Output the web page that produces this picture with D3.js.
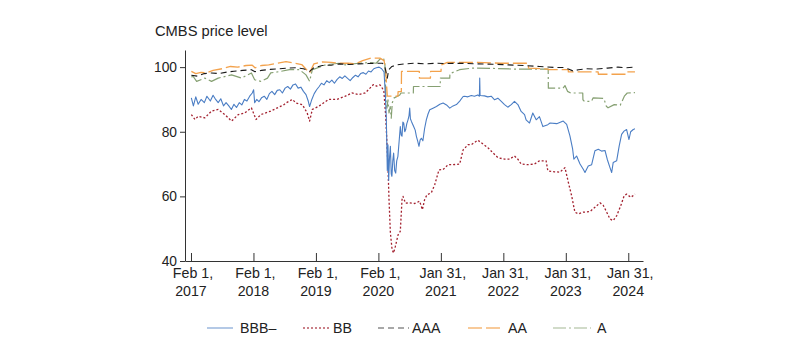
<!DOCTYPE html>
<html>
<head>
<meta charset="utf-8">
<script src="https://cdn.jsdelivr.net/npm/d3@7"></script>
<style>
  html, body { margin: 0; padding: 0; background: #fff; }
  svg { display: block; font-family: "Liberation Sans", Arial, sans-serif; }
</style>
</head>
<body>
<svg id="chart" width="800" height="358"></svg>
<script>
// ---------------- DATA ----------------
const title = "CMBS price level";
const yTicks = [40, 60, 80, 100];
const xTickDates = ["2017-02-01","2018-02-01","2019-02-01","2020-02-01","2021-01-31","2022-01-31","2023-01-31","2024-01-31"];
const xTickLine1 = ["Feb 1,","Feb 1,","Feb 1,","Feb 1,","Jan 31,","Jan 31,","Jan 31,","Jan 31,"];
const xTickLine2 = ["2017","2018","2019","2020","2021","2022","2023","2024"];
const seriesNames = ["BBB\u2013", "BB", "AAA", "AA", "A"];

const bbb = [
["2017-02-03",90.5],["2017-02-15",88.0],["2017-03-01",90.8],["2017-03-15",88.5],["2017-04-01",90.0],["2017-04-20",89.0],
["2017-05-05",91.0],["2017-05-25",89.5],["2017-06-10",91.3],["2017-06-25",90.0],["2017-07-10",89.0],["2017-07-25",90.2],
["2017-08-10",88.0],["2017-08-25",89.0],["2017-09-10",88.0],["2017-09-25",86.9],["2017-10-10",88.5],["2017-10-25",87.5],
["2017-11-10",89.0],["2017-11-25",88.3],["2017-12-10",90.0],["2017-12-25",89.5],["2018-01-10",91.0],["2018-01-25",92.0],
["2018-02-02",93.0],["2018-02-08",89.0],["2018-02-20",90.0],["2018-03-05",89.3],["2018-03-20",90.5],["2018-04-05",91.0],
["2018-04-20",90.0],["2018-05-05",91.8],["2018-05-20",92.5],["2018-06-05",91.5],["2018-06-20",92.8],["2018-07-05",93.0],
["2018-07-20",92.0],["2018-08-05",93.5],["2018-08-20",94.0],["2018-09-05",93.2],["2018-09-20",94.5],["2018-10-05",94.8],
["2018-10-20",93.5],["2018-11-05",93.8],["2018-11-20",92.5],["2018-12-05",91.5],["2018-12-18",89.5],["2018-12-26",87.8],
["2019-01-08",90.0],["2019-01-22",91.8],["2019-02-05",93.0],["2019-02-20",94.0],["2019-03-05",95.0],["2019-03-20",94.5],
["2019-04-05",95.8],["2019-04-20",95.2],["2019-05-05",96.0],["2019-05-20",95.0],["2019-06-05",96.2],["2019-06-20",97.0],
["2019-07-05",96.5],["2019-07-20",97.3],["2019-08-05",96.5],["2019-08-20",95.8],["2019-09-05",96.8],["2019-09-20",97.5],
["2019-10-05",97.0],["2019-10-20",98.0],["2019-11-05",98.3],["2019-11-20",97.8],["2019-12-05",98.8],["2019-12-20",98.5],
["2020-01-05",99.5],["2020-01-20",99.8],["2020-02-05",100.0],["2020-02-20",99.5],["2020-03-05",98.5],["2020-03-12",92.0],
["2020-03-18",84.7],["2020-03-24",68.0],["2020-03-28",76.0],["2020-04-01",65.0],["2020-04-06",72.0],["2020-04-11",75.5],
["2020-04-16",67.0],["2020-04-20",66.2],["2020-04-25",71.0],["2020-04-30",73.4],["2020-05-06",68.0],["2020-05-12",67.2],
["2020-05-18",71.0],["2020-05-25",72.4],["2020-06-01",77.0],["2020-06-08",81.6],["2020-06-13",79.0],["2020-06-18",78.6],
["2020-06-23",83.0],["2020-06-28",82.7],["2020-07-04",80.0],["2020-07-09",80.6],["2020-07-16",82.5],["2020-07-23",83.7],
["2020-07-29",85.0],["2020-08-02",87.3],["2020-08-06",84.0],["2020-08-12",83.2],["2020-08-25",81.6],["2020-09-03",80.5],
["2020-09-10",78.6],["2020-09-18",77.0],["2020-09-25",75.5],["2020-10-02",77.5],["2020-10-09",78.0],["2020-10-18",77.2],
["2020-10-28",81.0],["2020-11-07",83.7],["2020-11-17",85.5],["2020-11-27",86.8],["2020-12-16",87.3],["2021-01-05",87.8],
["2021-01-25",88.5],["2021-02-13",88.9],["2021-03-05",88.3],["2021-03-24",87.3],["2021-04-12",88.0],["2021-05-02",88.4],
["2021-05-21",89.5],["2021-06-10",90.9],["2021-06-18",91.0],["2021-07-08",90.8],["2021-07-28",91.2],["2021-08-15",91.0],
["2021-09-04",91.4],["2021-09-13",91.0],["2021-09-15",96.6],["2021-09-17",91.2],["2021-10-13",91.1],["2021-11-01",90.8],
["2021-11-21",91.0],["2021-12-11",89.9],["2021-12-30",90.4],["2022-01-19",89.4],["2022-02-07",88.4],["2022-02-26",87.6],
["2022-03-18",88.4],["2022-04-06",89.4],["2022-04-26",88.4],["2022-05-15",86.3],["2022-06-04",85.3],["2022-06-13",83.7],
["2022-07-03",82.7],["2022-07-22",85.8],["2022-08-11",83.7],["2022-08-30",84.7],["2022-09-19",81.6],["2022-10-18",82.2],
["2022-10-31",82.7],["2022-12-09",82.5],["2023-01-16",83.3],["2023-02-05",82.3],["2023-02-24",78.7],["2023-03-12",74.6],
["2023-03-19",71.5],["2023-04-04",72.5],["2023-04-24",70.0],["2023-05-13",68.4],["2023-05-23",67.4],["2023-06-11",69.4],
["2023-07-01",69.8],["2023-07-20",74.1],["2023-08-09",74.6],["2023-08-28",74.0],["2023-09-17",74.2],["2023-09-30",71.5],
["2023-10-16",68.9],["2023-10-26",67.4],["2023-11-04",70.5],["2023-11-24",71.0],["2023-12-09",75.6],["2023-12-23",79.2],
["2024-01-06",80.2],["2024-01-21",80.7],["2024-02-04",77.6],["2024-02-14",80.0],["2024-02-29",80.7],["2024-03-10",80.9]
];

const bb = [
["2017-02-03",85.3],["2017-02-24",83.8],["2017-03-15",84.8],["2017-04-23",84.3],["2017-06-01",86.4],["2017-07-10",86.9],
["2017-08-18",85.3],["2017-09-26",83.3],["2017-11-04",85.3],["2017-12-12",85.8],["2018-01-20",87.4],["2018-02-16",83.8],
["2018-03-16",85.3],["2018-05-13",86.4],["2018-06-21",87.4],["2018-07-30",88.4],["2018-08-09",88.9],["2018-09-17",90.0],
["2018-10-07",88.9],["2018-11-14",88.4],["2018-12-12",85.8],["2018-12-26",83.3],["2019-01-11",86.9],["2019-02-18",87.9],
["2019-04-16",90.0],["2019-06-03",90.0],["2019-07-23",91.0],["2019-08-30",92.0],["2019-10-08",91.5],["2019-11-16",92.0],
["2020-01-03",94.6],["2020-01-22",94.1],["2020-02-10",94.5],["2020-02-19",94.0],["2020-03-04",92.5],["2020-03-15",84.7],
["2020-03-28",69.3],["2020-04-03",59.0],["2020-04-11",48.7],["2020-04-21",43.5],["2020-04-30",42.5],["2020-05-10",44.5],
["2020-05-26",48.1],["2020-06-08",49.2],["2020-06-18",59.0],["2020-06-24",60.0],["2020-07-08",57.9],["2020-08-02",58.0],
["2020-08-31",57.8],["2020-09-29",58.5],["2020-10-15",55.9],["2020-10-28",59.0],["2020-11-11",60.5],["2020-12-06",61.1],
["2020-12-26",63.6],["2021-01-20",68.2],["2021-02-13",68.3],["2021-03-14",69.8],["2021-04-12",69.8],["2021-05-21",70.0],
["2021-06-10",74.4],["2021-07-09",76.0],["2021-07-28",76.0],["2021-09-04",77.4],["2021-09-24",76.6],["2021-11-01",75.1],
["2021-12-01",73.5],["2021-12-30",72.0],["2022-02-07",71.5],["2022-03-08",71.5],["2022-04-06",72.5],["2022-04-26",71.5],
["2022-05-15",70.0],["2022-06-23",69.8],["2022-08-01",70.0],["2022-08-30",71.0],["2022-10-08",71.0],["2022-10-18",67.9],
["2022-11-26",67.6],["2022-12-28",67.5],["2023-01-26",68.9],["2023-02-15",64.3],["2023-03-06",60.2],["2023-03-25",55.1],
["2023-04-14",54.6],["2023-05-13",55.1],["2023-06-21",55.3],["2023-07-20",56.6],["2023-08-19",58.0],["2023-09-07",57.2],
["2023-09-27",55.1],["2023-10-16",53.0],["2023-11-04",52.5],["2023-11-24",54.0],["2023-12-18",57.1],["2024-01-07",60.2],
["2024-01-21",60.7],["2024-02-15",59.7],["2024-03-10",60.7]
];

const aaa = [
["2017-02-03",97.5],["2017-03-10",97.2],["2017-04-20",98.0],["2017-06-01",98.2],["2017-07-15",98.0],["2017-09-01",98.5],
["2017-10-10",98.7],["2017-12-01",99.0],["2018-01-20",99.2],["2018-02-10",98.6],["2018-03-20",99.0],["2018-05-10",99.3],
["2018-07-01",99.5],["2018-08-20",99.7],["2018-10-10",99.8],["2018-11-20",99.5],["2018-12-26",98.7],["2019-01-20",99.8],
["2019-03-10",100.5],["2019-05-01",100.6],["2019-06-20",101.0],["2019-08-15",100.8],["2019-10-10",101.0],["2019-12-01",101.1],
["2020-01-20",101.2],["2020-02-25",101.2],["2020-03-10",100.0],["2020-03-18",98.1],["2020-03-24",96.6],["2020-04-01",99.2],
["2020-04-20",100.2],["2020-05-20",100.7],["2020-07-01",101.0],["2020-09-01",101.2],["2020-11-01",101.0],["2021-01-01",101.2],
["2021-03-01",101.1],["2021-06-01",101.2],["2021-09-01",101.0],["2021-12-01",100.9],["2022-03-01",100.7],["2022-06-01",100.5],
["2022-09-01",100.2],["2022-12-01",99.9],["2023-01-15",99.9],["2023-02-15",99.4],["2023-03-15",98.8],["2023-04-15",99.2],
["2023-06-01",99.5],["2023-08-01",99.4],["2023-10-01",99.7],["2023-12-01",100.0],["2024-01-15",99.8],["2024-03-10",100.0]
];

const aa = [
["2017-02-03",98.7],["2017-03-01",98.0],["2017-04-01",98.4],["2017-05-01",98.2],["2017-06-10",99.0],["2017-08-01",99.5],
["2017-09-20",100.2],["2017-11-01",100.0],["2017-12-20",100.5],["2018-01-25",100.6],["2018-02-10",99.8],["2018-03-20",100.5],
["2018-05-01",100.7],["2018-06-20",101.2],["2018-08-10",101.7],["2018-09-20",101.3],["2018-11-10",100.8],["2018-12-26",98.2],
["2019-01-20",101.0],["2019-03-10",101.6],["2019-05-01",101.5],["2019-06-20",101.2],["2019-08-10",101.2],["2019-09-20",101.0],
["2019-11-01",102.0],["2019-12-20",102.8],["2020-02-10",102.8],["2020-03-05",102.0],["2020-03-15",99.0],["2020-03-20",94.2],
["2020-03-24",91.0],["2020-05-25",91.0],["2020-05-26",92.4],["2020-06-14",92.4],["2020-06-15",98.7],["2020-09-27",98.7],
["2020-09-28",96.6],["2020-12-01",96.6],["2020-12-02",98.7],["2021-02-01",98.7],["2021-02-02",100.7],["2021-03-10",101.5],
["2021-09-01",101.5],["2022-01-15",101.2],["2022-06-26",101.2],["2022-06-27",99.7],["2022-10-20",99.4],["2022-10-21",99.2],
["2023-02-14",99.2],["2023-02-15",98.5],["2023-08-08",98.5],["2023-08-09",97.8],["2024-01-20",97.8],["2024-01-21",98.5],
["2024-03-10",98.5]
];

const aSeries = [
["2017-02-03",97.0],["2017-02-14",97.1],["2017-03-06",95.6],["2017-04-23",96.6],["2017-06-01",95.6],["2017-07-10",96.6],
["2017-09-26",97.6],["2017-11-23",96.6],["2018-01-20",98.2],["2018-02-08",96.1],["2018-03-16",95.6],["2018-04-24",96.6],
["2018-05-13",98.2],["2018-07-11",98.7],["2018-08-30",99.2],["2018-10-28",99.2],["2018-12-05",97.6],["2018-12-26",95.6],
["2019-01-11",99.2],["2019-03-29",100.7],["2019-06-15",101.2],["2019-07-23",100.7],["2019-10-08",101.2],["2019-12-10",101.4],
["2020-01-19",101.2],["2020-02-10",102.5],["2020-03-02",102.8],["2020-03-10",101.0],["2020-03-16",89.9],["2020-03-22",87.3],
["2020-03-28",89.9],["2020-04-03",85.8],["2020-04-10",87.8],["2020-04-16",84.2],["2020-04-22",88.9],["2020-05-01",90.4],
["2020-06-05",91.4],["2020-06-12",92.0],["2020-08-23",92.0],["2020-08-24",94.0],["2021-01-27",94.0],["2021-01-28",96.6],
["2021-03-24",96.6],["2021-03-25",98.0],["2021-05-20",99.2],["2021-08-01",99.7],["2021-12-01",99.6],["2022-04-01",99.4],
["2022-10-20",99.4],["2022-10-21",93.5],["2023-01-15",93.5],["2023-01-26",94.3],["2023-02-10",92.5],["2023-03-01",92.0],
["2023-05-10",92.0],["2023-05-11",89.9],["2023-05-20",89.4],["2023-06-30",89.4],["2023-07-10",90.5],["2023-09-10",90.3],
["2023-09-25",87.9],["2023-10-05",87.4],["2023-11-10",88.4],["2023-12-15",88.2],["2024-01-08",91.0],["2024-01-25",92.0],
["2024-03-10",92.1]
];

// ---------------- DRAWING ----------------
const parse = d3.timeParse("%Y-%m-%d");
const svg = d3.select("#chart");

const x = d3.scaleTime()
  .domain([parse("2016-12-28"), parse("2024-04-26")])
  .range([185, 643]);
const y = d3.scaleLinear().domain([40, 105.3]).range([261, 50]);

const axisColor = "#333";
const textColor = "#222";

// title
svg.append("text").attr("x", 155).attr("y", 36)
  .attr("font-size", 14.7).attr("fill", textColor).text(title);

// y axis
const yAxis = svg.append("g").attr("transform", "translate(185,0)")
  .call(d3.axisLeft(y).tickValues(yTicks).tickSize(5).tickPadding(3).tickSizeOuter(0));
yAxis.select(".domain").attr("stroke", axisColor);
yAxis.selectAll(".tick line").attr("stroke", axisColor);
yAxis.selectAll(".tick text").attr("font-size", 13.8).attr("fill", textColor)
  .attr("font-family", "Liberation Sans, Arial, sans-serif");

// x axis
const tickDates = xTickDates.map(parse);
const xAxis = svg.append("g").attr("transform", "translate(0,261)")
  .call(d3.axisBottom(x).tickValues(tickDates).tickSize(-8).tickSizeOuter(0).tickFormat(() => ""));
xAxis.select(".domain").attr("stroke", axisColor);
xAxis.selectAll(".tick line").attr("stroke", axisColor);
xAxis.selectAll(".tick text").remove();
const xl = svg.append("g").attr("font-size", 14.2).attr("fill", textColor).attr("text-anchor", "middle");
tickDates.forEach((d, i) => {
  const t = xl.append("text").attr("x", x(d)).attr("y", 278);
  t.append("tspan").attr("x", x(d)).attr("dx", 2).text(xTickLine1[i]);
  t.append("tspan").attr("x", x(d)).attr("y", 296).text(xTickLine2[i]);
});

// lines
const styles = [
  { data: bbb, color: "#4a7dc4", dash: null, w: 1.1 },
  { data: bb, color: "#a3212f", dash: "2,2", w: 1.3 },
  { data: aaa, color: "#1a1a1a", dash: "6,4", w: 1.1 },
  { data: aa, color: "#f3a24c", dash: "14,4", w: 1.3 },
  { data: aSeries, color: "#86a072", dash: "13,3,2,3", w: 1.2 }
];
const line = d3.line().x(d => x(parse(d[0]))).y(d => y(d[1]));
const drawOrder = [1, 4, 3, 2, 0];
drawOrder.forEach(i => {
  const s = styles[i];
  svg.append("path").datum(s.data)
    .attr("d", line).attr("fill", "none")
    .attr("stroke", s.color).attr("stroke-width", s.w)
    .attr("stroke-dasharray", s.dash)
    .attr("stroke-linejoin", "round");
});

// legend
const legendItems = [
  { x1: 207, x2: 233, tx: 240 },
  { x1: 303, x2: 329, tx: 333 },
  { x1: 378, x2: 409, tx: 412 },
  { x1: 468, x2: 503, tx: 508 },
  { x1: 553, x2: 591, tx: 597 }
];
const lg = svg.append("g");
legendItems.forEach((it, i) => {
  const s = styles[i];
  lg.append("line").attr("x1", it.x1).attr("x2", it.x2).attr("y1", 328).attr("y2", 328)
    .attr("stroke", s.color).attr("stroke-width", s.w).attr("stroke-dasharray", s.dash)
    .attr("opacity", 0.75);
  lg.append("text").attr("x", it.tx).attr("y", 333).attr("font-size", 14.2)
    .attr("fill", textColor).text(seriesNames[i]);
});
</script>
</body>
</html>
